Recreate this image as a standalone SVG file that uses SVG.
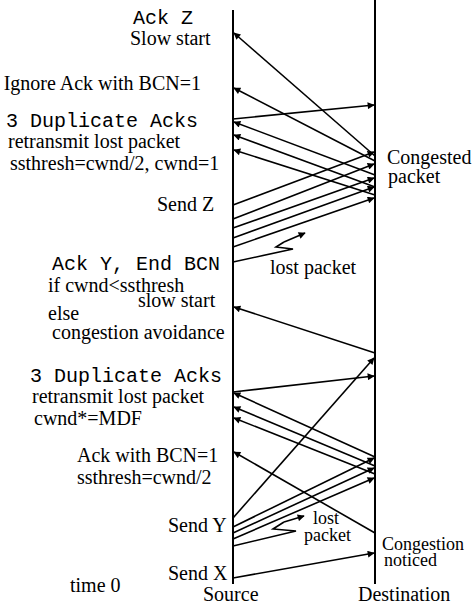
<svg xmlns="http://www.w3.org/2000/svg" width="474" height="604" viewBox="0 0 474 604">
<defs>
<marker id="ah" viewBox="0 0 10 10" refX="9" refY="5" markerWidth="9" markerHeight="7" markerUnits="userSpaceOnUse" orient="auto">
<path d="M0,0 L10,5 L0,10 z" fill="#000"/>
</marker>
<style>
.s{font-family:"Liberation Serif","Times New Roman",serif;font-size:20px;fill:#000}
.t{font-family:"Liberation Serif","Times New Roman",serif;font-size:18px;fill:#000}
.m{font-family:"Liberation Mono","Courier New",monospace;font-size:20px;fill:#000}
.ln{stroke:#000;stroke-width:1.6;fill:none}
.ar{stroke:#000;stroke-width:1.6;fill:none;marker-end:url(#ah)}
.ax{stroke:#000;stroke-width:2;fill:none}
</style>
</defs>
<rect width="474" height="604" fill="#fff"/>
<g id="source">
<line class="ax" x1="233" y1="10" x2="233" y2="584"/>
<text class="s" x="203" y="601">Source</text>
</g>
<g id="destination">
<line class="ax" x1="375" y1="0" x2="375" y2="584"/>
<text class="s" x="358" y="601">Destination</text>
</g>
<g id="labels-source">
<text class="m" x="133" y="24">Ack Z</text>
<text class="s" x="130" y="45">Slow start</text>
<text class="s" x="201" y="90" text-anchor="end">Ignore Ack with BCN=1</text>
<text class="m" x="6" y="127">3 Duplicate Acks</text>
<text class="s" x="8" y="148">retransmit lost packet</text>
<text class="s" x="10" y="170">ssthresh=cwnd/2, cwnd=1</text>
<text class="s" x="157" y="211">Send Z</text>
<text class="m" x="52" y="270">Ack Y, End BCN</text>
<text class="s" x="48" y="292">if cwnd&lt;ssthresh</text>
<text class="s" x="138" y="307">slow start</text>
<text class="s" x="48" y="320">else</text>
<text class="s" x="52" y="339">congestion avoidance</text>
<text class="m" x="30" y="382">3 Duplicate Acks</text>
<text class="s" x="32" y="403">retransmit lost packet</text>
<text class="s" x="34" y="425">cwnd*=MDF</text>
<text class="s" x="77" y="462">Ack with BCN=1</text>
<text class="s" x="77" y="484">ssthresh=cwnd/2</text>
<text class="s" x="168" y="532">Send Y</text>
<text class="s" x="168" y="580">Send X</text>
<text class="s" x="70" y="592">time 0</text>
</g>
<g id="labels-destination">
<text class="s" x="387" y="164">Congested</text>
<text class="s" x="388" y="183">packet</text>
<text class="t" x="382" y="550">Congestion</text>
<text class="t" x="384" y="566">noticed</text>
</g>
<g id="labels-lost">
<text class="s" x="270" y="274">lost packet</text>
<text class="t" x="313" y="524">lost</text>
<text class="t" x="304" y="541">packet</text>
</g>
<g id="connectors">
<line class="ar" x1="375" y1="156" x2="234" y2="33"/>
<line class="ar" x1="375" y1="161" x2="234" y2="88"/>
<line class="ar" x1="375" y1="175" x2="234" y2="122"/>
<line class="ar" x1="375" y1="187" x2="234" y2="135"/>
<line class="ar" x1="375" y1="195" x2="234" y2="150"/>
<line class="ar" x1="233" y1="119" x2="374" y2="105"/>
<line class="ar" x1="233" y1="205" x2="374" y2="152"/>
<line class="ar" x1="233" y1="219" x2="374" y2="164"/>
<line class="ar" x1="233" y1="228" x2="374" y2="178"/>
<line class="ar" x1="233" y1="238" x2="374" y2="187"/>
<line class="ar" x1="233" y1="247" x2="374" y2="198"/>
<polyline class="ln" points="233,262 293,249 276,247 284,242"/>
<line class="ar" x1="284" y1="242" x2="305" y2="233"/>
<line class="ar" x1="375" y1="353" x2="234" y2="307"/>
<line class="ar" x1="233" y1="392" x2="374" y2="376"/>
<line class="ar" x1="233" y1="518" x2="374" y2="358"/>
<line class="ar" x1="375" y1="457" x2="234" y2="393"/>
<line class="ar" x1="375" y1="466" x2="234" y2="407"/>
<line class="ar" x1="375" y1="474" x2="234" y2="418"/>
<line class="ar" x1="375" y1="533" x2="234" y2="452"/>
<line class="ar" x1="233" y1="527" x2="374" y2="458"/>
<line class="ar" x1="233" y1="533" x2="374" y2="468"/>
<line class="ar" x1="233" y1="539" x2="374" y2="478"/>
<polyline class="ln" points="233,546 296,531 273,529 284,522"/>
<line class="ar" x1="284" y1="522" x2="304" y2="516"/>
<line class="ar" x1="233" y1="578" x2="374" y2="553"/>
</g>
</svg>
